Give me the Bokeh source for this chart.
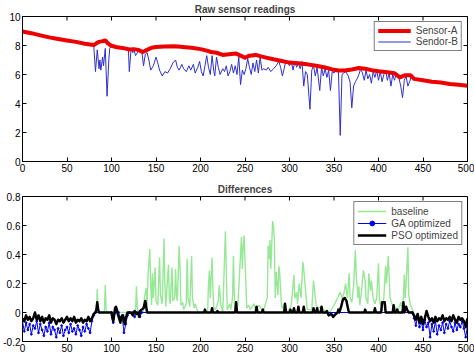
import math
from bokeh.plotting import figure
from bokeh.layouts import column
from bokeh.models import Legend, LegendItem, Range1d, FixedTicker, Title
from bokeh.embed import file_html
from bokeh.resources import INLINE

FONT = "Liberation Sans"

# ---------------- data ----------------
x_ticks = [0, 50, 100, 150, 200, 250, 300, 350, 400, 450, 500]
x_tick_labels = ["0", "50", "100", "150", "200", "250", "300", "350", "400", "450", "500"]
top_y_ticks = [0, 2, 4, 6, 8, 10]
top_y_tick_labels = ["0", "2", "4", "6", "8", "10"]
bot_y_ticks = [-0.2, 0, 0.2, 0.4, 0.6, 0.8]
bot_y_tick_labels = ["-0.2", "0", "0.2", "0.4", "0.6", "0.8"]

x_a = [0, 10, 20, 30, 40, 50, 60, 70, 80, 83, 86, 90, 93, 96, 100, 105, 110, 115, 120, 125,
       130, 135, 140, 145, 150, 160, 170, 175, 180, 190, 200, 207, 212, 218, 225, 232, 240, 245,
       250, 255, 262, 268, 275, 282, 290, 300, 310, 320, 330, 340, 348, 355, 362, 370, 378, 385,
       392, 400, 410, 418, 424, 430, 436, 440, 450, 460, 470, 480, 490, 500]
sensor_a = [8.97, 8.85, 8.7, 8.56, 8.45, 8.35, 8.25, 8.12, 8.03, 8.15, 8.25, 8.3, 8.35, 8.15, 7.98,
            7.9, 7.85, 7.8, 7.72, 7.75, 7.7, 7.55, 7.7, 7.85, 7.9, 7.93, 7.95, 7.93, 7.9, 7.85,
            7.75, 7.65, 7.55, 7.5, 7.35, 7.4, 7.45, 7.3, 7.15, 7.3, 7.35, 7.25, 7.15, 7.05, 6.95,
            6.82, 6.78, 6.7, 6.6, 6.48, 6.35, 6.27, 6.27, 6.35, 6.45, 6.4, 6.3, 6.22, 6.15, 6.08,
            5.8, 5.95, 5.95, 5.7, 5.6, 5.5, 5.45, 5.35, 5.3, 5.22]

x_b = [0, 20, 40, 60, 80, 82, 84, 86, 87, 88, 90, 91, 93, 95, 97, 98, 100, 105, 110, 115, 119,
       120, 122, 124, 125, 127, 129, 131, 134, 136, 138, 140, 142, 144, 147, 150, 152, 154, 157,
       160, 163, 166, 169, 172, 174, 176, 179, 181, 184, 187, 189, 192, 194, 197, 199, 201, 203,
       205, 207, 209, 211, 213, 215, 216, 218, 220, 222, 225, 227, 229, 231, 233, 235, 237, 239,
       241, 243, 245, 247, 249, 251, 253, 255, 257, 259, 261, 263, 265, 267, 269, 271, 274, 276,
       279, 282, 285, 288, 290, 292, 294, 296, 298, 300, 302, 304, 306, 308, 310, 312, 314, 316,
       318, 320, 323, 325, 327, 329, 331, 334, 336, 338, 340, 342, 344, 346, 348, 350, 352, 355,
       357, 359, 361, 363, 366, 368, 370, 372, 374, 376, 378, 380, 382, 384, 386, 388, 390, 392,
       394, 396, 398, 400, 402, 404, 406, 408, 410, 412, 414, 416, 418, 420, 422, 425, 427, 429,
       431, 433, 435, 437, 439, 440, 460, 480, 500]
sensor_b = [9.02, 8.76, 8.5, 8.3, 8.05, 6.2, 7.7, 6.4, 7.0, 6.3, 7.2, 6.6, 7.8, 4.5, 7.0, 7.8,
            8.0, 7.92, 7.85, 7.8, 7.72, 6.2, 7.8, 7.5, 7.8, 7.3, 7.5, 7.7, 7.6, 6.6, 7.4, 7.5,
            7.0, 6.3, 6.6, 7.2, 6.8, 6.3, 5.9, 6.2, 6.1, 6.4, 6.8, 7.0, 6.5, 6.3, 6.7, 6.4, 6.2,
            6.6, 6.3, 6.7, 6.1, 6.5, 6.9, 6.2, 5.9, 6.6, 7.3, 6.5, 6.0, 7.3, 6.2, 5.9, 7.2, 6.5,
            6.0, 6.4, 6.2, 6.6, 5.9, 6.2, 6.7, 6.1, 6.6, 6.0, 7.2, 5.3, 6.3, 6.0, 6.4, 7.1, 6.5,
            6.0, 6.8, 6.2, 7.0, 6.1, 7.2, 6.3, 6.4, 6.3, 6.5, 6.2, 6.4, 6.6, 6.9, 6.5, 5.9, 6.4,
            7.0, 6.8, 6.6, 6.9, 6.3, 6.9, 6.5, 6.8, 6.4, 6.9, 5.2, 6.2, 6.0, 3.6, 6.3, 6.6, 5.9,
            6.5, 4.9, 6.5, 5.9, 6.4, 5.8, 6.3, 4.9, 6.2, 6.1, 6.3, 6.2, 1.8, 6.0, 6.1, 6.2, 5.9,
            5.5, 3.7, 5.2, 5.5, 5.7, 6.0, 6.4, 6.1, 5.6, 6.3, 5.7, 6.0, 5.4, 6.2, 5.8, 6.3, 5.6,
            6.2, 5.5, 6.0, 6.3, 5.6, 6.1, 5.2, 6.0, 5.6, 6.1, 6.0, 5.2, 4.4, 5.6, 5.9, 5.2, 5.5,
            5.9, 5.7, 5.7, 5.5, 5.35, 5.22]

x_base = [80, 83, 84, 85, 86, 92, 93, 94, 95, 127, 128, 129, 130, 136, 137, 139, 140, 141, 143,
          144, 145, 146, 147, 149, 150, 152, 154, 155, 157, 159, 160, 161, 164, 165, 166, 168,
          169, 171, 172, 173, 174, 176, 177, 178, 180, 181, 184, 185, 186, 188, 190, 191, 193,
          194, 196, 198, 208, 209, 210, 211, 213, 214, 215, 217, 220, 221, 223, 225, 228, 229,
          230, 233, 234, 236, 237, 238, 239, 242, 246, 247, 248, 249, 251, 252, 254, 256, 260,
          262, 266, 268, 270, 275, 276, 277, 278, 279, 281, 282, 283, 284, 285, 287, 288, 289,
          291, 292, 294, 296, 298, 302, 305, 306, 308, 309, 311, 313, 315, 316, 319, 320, 325,
          327, 329, 330, 332, 336, 338, 345, 350, 354, 357, 359, 361, 363, 365, 367, 368, 370,
          372, 374, 375, 377, 378, 379, 381, 383, 385, 386, 388, 389, 391, 392, 394, 396, 398,
          400, 401, 402, 404, 406, 408, 409, 411, 412, 413, 415, 417, 420, 422, 424, 425, 426,
          428, 429, 430, 431, 433, 434, 436, 438, 440]
baseline = [0, 0, 0.16, 0.02, 0, 0, 0.19, 0.02, 0, 0, 0.18, 0.03, 0, 0, 0.1, 0.17, 0.05, 0.25,
            0.44, 0.2, 0.05, 0.27, 0.1, 0.31, 0.08, 0.05, 0.38, 0.12, 0.06, 0.51, 0.2, 0.04, 0.33,
            0.1, 0.06, 0.31, 0.08, 0.1, 0.3, 0.12, 0.08, 0.46, 0.3, 0.05, 0.07, 0.02, 0.06, 0.37,
            0.1, 0.04, 0.39, 0.1, 0.03, 0.06, 0.02, 0, 0, 0.2, 0.29, 0.1, 0.38, 0.15, 0.03, 0.02,
            0.08, 0.19, 0.05, 0, 0.56, 0.3, 0.02, 0.06, 0.02, 0.1, 0.39, 0.12, 0.02, 0.05, 0.52,
            0.3, 0.45, 0.53, 0.2, 0.03, 0.05, 0.02, 0.06, 0.02, 0.05, 0.03, 0, 0.1, 0.46, 0.37,
            0.5, 0.3, 0.63, 0.6, 0.5, 0.1, 0.28, 0.12, 0.32, 0.27, 0.05, 0.03, 0.06, 0.02, 0,
            0.05, 0.26, 0.1, 0.14, 0.06, 0.2, 0.1, 0.35, 0.3, 0.08, 0.02, 0.02, 0.22, 0.1, 0.05,
            0.03, 0.04, 0.02, 0, 0.05, 0.1, 0.14, 0.1, 0.13, 0.2, 0.1, 0.27, 0.1, 0.07, 0.18,
            0.43, 0.25, 0.1, 0.18, 0.05, 0.15, 0.29, 0.22, 0.1, 0.06, 0.27, 0.15, 0.22, 0.1, 0.06,
            0.1, 0.34, 0.1, 0.06, 0.03, 0.1, 0.32, 0.2, 0.39, 0.24, 0.1, 0.06, 0.02, 0.03, 0.02,
            0.05, 0.07, 0.04, 0.1, 0.26, 0.1, 0.2, 0.45, 0.12, 0.05, 0.02, 0]

x_ga = [0, 2, 4, 6, 8, 10, 12, 14, 16, 18, 20, 22, 24, 26, 28, 30, 32, 34, 36, 38, 40, 42, 44,
        46, 48, 50, 52, 54, 56, 58, 60, 62, 64, 66, 68, 70, 72, 74, 76, 78, 80, 82, 100, 102,
        104, 108, 110, 112, 114, 116, 118, 120, 124, 126, 128, 132, 134, 438, 440, 442, 444,
        446, 448, 450, 452, 454, 456, 458, 460, 462, 464, 466, 468, 470, 472, 474, 476, 478,
        480, 482, 484, 486, 488, 490, 492, 494, 496, 498, 500]
ga = [-0.06, -0.13, -0.07, -0.12, -0.08, -0.15, -0.09, -0.11, -0.06, -0.14, -0.08, -0.12, -0.16,
      -0.1, -0.13, -0.07, -0.15, -0.1, -0.12, -0.17, -0.11, -0.14, -0.09, -0.16, -0.12, -0.1,
      -0.14, -0.08, -0.13, -0.11, -0.15, -0.09, -0.12, -0.16, -0.1, -0.13, -0.08, -0.11, -0.14,
      -0.06, -0.02, 0, 0, -0.07, 0, 0, -0.05, -0.02, -0.14, -0.08, -0.02, 0, 0, -0.03, 0,
      -0.03, 0, 0, -0.04, -0.09, -0.03, -0.1, -0.06, -0.12, -0.05, -0.1, -0.07, -0.17, -0.08,
      -0.13, -0.06, -0.15, -0.09, -0.12, -0.07, -0.14, -0.08, -0.11, -0.06, -0.1, -0.13, -0.07,
      -0.12, -0.08, -0.1, -0.06, -0.11, -0.17, -0.09]

x_pso = [0, 2, 4, 6, 8, 10, 12, 14, 16, 18, 20, 22, 24, 26, 28, 30, 32, 34, 36, 38, 40, 42, 44,
         46, 48, 50, 52, 54, 56, 58, 60, 62, 64, 66, 68, 70, 72, 74, 76, 78, 80, 82, 83, 84, 85,
         86, 100, 101, 102, 104, 105, 106, 107, 109, 110, 111, 113, 114, 115, 116, 117, 118, 122,
         124, 126, 128, 130, 131, 132, 134, 136, 138, 139, 140, 204, 205, 206, 212, 213, 214,
         218, 219, 220, 239, 240, 241, 262, 263, 264, 269, 270, 271, 294, 295, 296, 300, 301,
         302, 304, 305, 306, 309, 310, 311, 315, 316, 317, 326, 327, 328, 330, 331, 332, 335,
         336, 337, 341, 342, 344, 347, 349, 352, 354, 355, 356, 358, 360, 362, 364, 366, 367,
         384, 385, 386, 395, 396, 397, 403, 404, 407, 408, 416, 417, 418, 420, 421, 422, 427,
         428, 429, 431, 432, 434, 438, 440, 442, 444, 446, 448, 450, 452, 454, 456, 458, 460,
         462, 464, 466, 468, 470, 472, 474, 476, 478, 480, 482, 484, 486, 488, 490, 492, 494,
         496, 498, 500]
pso = [-0.04, -0.06, -0.02, -0.05, -0.03, -0.06, -0.04, 0.0, -0.05, -0.02, -0.06, -0.03, -0.07,
       -0.04, -0.05, -0.02, -0.07, -0.04, -0.05, -0.08, -0.05, -0.06, -0.04, -0.07, -0.05, -0.03,
       -0.06, -0.04, -0.06, -0.03, -0.07, -0.05, -0.06, -0.04, -0.07, -0.05, -0.06, -0.03, -0.06,
       -0.04, -0.01, 0, 0.02, 0.07, 0.02, 0, 0, -0.04, -0.06, 0.03, 0.04, 0.02, -0.01, -0.05,
       -0.07, -0.03, -0.02, -0.06, -0.08, -0.04, -0.02, 0, 0, -0.02, 0.01, -0.01, 0.0, -0.03,
       0.01, 0.02, 0.03, 0.08, 0.04, 0, 0, 0.02, 0, 0, 0.03, 0, 0, 0.01, 0, 0, 0.07, 0, 0, 0.04,
       0, 0, 0.02, 0, 0, 0.06, 0, 0, 0.02, 0, 0, 0.03, 0, 0, 0.04, 0, 0, 0.04, 0, 0, 0.03, 0,
       0, 0.03, 0, 0, 0.04, 0, 0, 0.01, -0.02, -0.01, -0.03, -0.01, 0, 0.02, 0, 0.04, 0.09,
       0.1, 0.08, 0.02, 0, 0, 0.02, 0, 0, 0.03, 0, 0, 0.07, 0.07, 0, 0, 0.05, 0, 0, 0.02, 0,
       0, 0.07, 0, 0.04, 0.02, 0, 0, -0.02, -0.05, -0.01, -0.07, -0.03, -0.08, -0.04, 0.01,
       -0.03, -0.06, -0.04, -0.07, -0.03, -0.06, -0.04, -0.05, -0.02, -0.06, -0.04, -0.05,
       -0.03, -0.06, -0.02, -0.05, -0.07, -0.03, -0.05, -0.04, -0.06, -0.1, -0.04]


def make_fig(height, title, y_lo, y_hi, y_ticks, y_labels, border_top, border_bottom, standoff):
    p = figure(width=474, height=height, output_backend="svg", toolbar_location=None,
               x_range=Range1d(0, 500), y_range=Range1d(y_lo, y_hi),
               min_border_left=21, min_border_right=7,
               min_border_top=border_top, min_border_bottom=border_bottom)
    p.title = Title(text=title, align="center", text_font=FONT, text_font_size="10px",
                    text_font_style="bold", standoff=standoff, offset=0)
    p.xgrid.visible = False
    p.ygrid.visible = False
    p.outline_line_color = "black"
    p.outline_line_width = 1
    p.background_fill_color = "white"
    p.border_fill_color = "white"
    for ax, ticks, labels in ((p.xaxis[0], x_ticks, x_tick_labels), (p.yaxis[0], y_ticks, y_labels)):
        ax.ticker = FixedTicker(ticks=ticks)
        ax.major_label_overrides = {t: l for t, l in zip(ticks, labels)}
        ax.major_tick_in = 4
        ax.major_tick_out = 0
        ax.minor_tick_line_color = None
        ax.major_label_text_font = FONT
        ax.major_label_text_font_size = "10px"
        ax.major_label_text_color = "black"
        ax.major_label_standoff = 2
        ax.axis_line_color = "black"
        ax.major_tick_line_color = "black"
    # inward tick marks on the top and right edges of the box (clipped to the frame)
    p.scatter(x_ticks, [y_hi] * len(x_ticks), marker="dash", angle=math.pi / 2, size=8,
              line_color="black", line_width=1)
    p.scatter([500] * len(y_ticks), y_ticks, marker="dash", size=8,
              line_color="black", line_width=1)
    return p


p1 = make_fig(177, "Raw sensor readings", 0, 10, top_y_ticks, top_y_tick_labels, 15, 16, 3)
rb = p1.line(x_b, sensor_b, line_color="#2f2fd0", line_width=1)
ra = p1.line(x_a, sensor_a, line_color="#ee0000", line_width=4, line_join="round")
leg1 = Legend(items=[LegendItem(label="Sensor-A", renderers=[ra]),
                     LegendItem(label="Sendor-B", renderers=[rb])],
              location="top_right", margin=5, padding=3, spacing=0,
              glyph_width=33, glyph_height=11, label_height=11, label_standoff=5,
              label_text_font=FONT, label_text_font_size="10px",
              border_line_color="black", border_line_width=1, background_fill_alpha=1)
p1.add_layout(leg1)

p2 = make_fig(177, "Differences", -0.2, 0.8, bot_y_ticks, bot_y_tick_labels, 19, 12, 4)
rbase = p2.line(x_base, baseline, line_color="#96e896", line_width=1.4)
rga = p2.line(x_ga, ga, line_color="#0000ee", line_width=1)
rgad = p2.scatter(x_ga, ga, size=1.8, color="#0000ee")
rpso = p2.line(x_pso, pso, line_color="black", line_width=2.5, line_join="round")
leg2 = Legend(items=[LegendItem(label="baseline", renderers=[rbase]),
                     LegendItem(label="GA optimized", renderers=[rga, rgad]),
                     LegendItem(label="PSO optimized", renderers=[rpso])],
              location="top_right", margin=5, padding=3, spacing=0,
              glyph_width=29, glyph_height=12, label_height=12, label_standoff=5,
              label_text_font=FONT, label_text_font_size="10px",
              border_line_color="black", border_line_width=1, background_fill_alpha=1)
p2.add_layout(leg2)

layout = column(p1, p2, spacing=0)
open("out.html", "w").write(file_html(layout, INLINE))
